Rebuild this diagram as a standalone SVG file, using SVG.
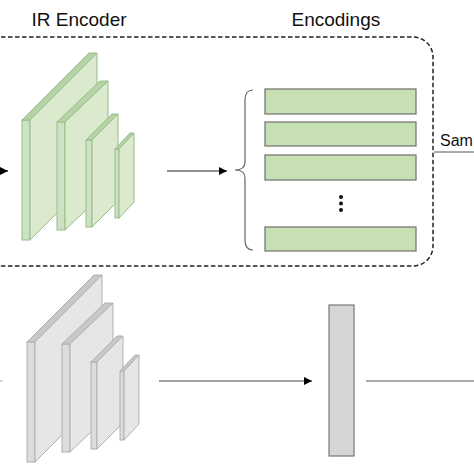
<svg xmlns="http://www.w3.org/2000/svg" width="474" height="474" viewBox="0 0 474 474">
<defs>
<style>
.t{font-family:"Liberation Sans",Arial,sans-serif;fill:#111}
.gs{fill:#cde2c4;stroke:#98bd86;stroke-width:1}
.gt{fill:#b5d3a5;stroke:#98bd86;stroke-width:1}
.gf{fill:#dbeacf;stroke:#98bd86;stroke-width:1}
.ys{fill:#dcdcdc;stroke:#b0b0b0;stroke-width:1}
.yt{fill:#c8c8c8;stroke:#b0b0b0;stroke-width:1}
.yf{fill:#e6e6e6;stroke:#b0b0b0;stroke-width:1}
.bar{fill:#c6e0b4;stroke:#6e6e6e;stroke-width:1.2}
.ln{stroke:#222;stroke-width:1.2;fill:none}
</style>
<marker id="ah" markerWidth="10" markerHeight="8" refX="8" refY="4" orient="auto" markerUnits="userSpaceOnUse">
<path d="M0,0 L8,4 L0,8 z" fill="#000"/>
</marker>
</defs>
<rect width="474" height="474" fill="#fff"/>
<g id="container">
<rect x="-40" y="37" width="473" height="229" rx="20" ry="20" fill="none" stroke="#222" stroke-width="1.5" stroke-dasharray="4.5 2.5"/>
</g>
<text class="t" x="31.5" y="26" font-size="19">IR Encoder</text>
<text class="t" x="291.5" y="26" font-size="19">Encodings</text>
<text class="t" x="440" y="146" font-size="16">Sam</text>
<g id="ir-encoder">
<rect class="gs" x="22" y="120" width="8" height="120"/>
<polygon class="gt" points="22,120 30,120 97,53 89,53"/>
<polygon class="gf" points="30,120 97,53 97,173 30,240"/>
<rect class="gs" x="57" y="122" width="8" height="108"/>
<polygon class="gt" points="57,122 65,122 108,81 100,81"/>
<polygon class="gf" points="65,122 108,81 108,189 65,230"/>
<rect class="gs" x="86" y="140" width="6" height="87"/>
<polygon class="gt" points="86,140 92,140 118,114 112,114"/>
<polygon class="gf" points="92,140 118,114 118,201 92,227"/>
<rect class="gs" x="115" y="149" width="4" height="69"/>
<polygon class="gt" points="115,149 119,149 134,133 130,133"/>
<polygon class="gf" points="119,149 134,133 134,202 119,218"/>
</g>
<g id="encodings">
<path d="M253,90 Q245,90 245,100 L245,162 Q245,170 235,170 Q245,170 245,178 L245,240 Q245,250 253,250" fill="none" stroke="#666" stroke-width="1.2"/>
<rect class="bar" x="265" y="89" width="151" height="25"/>
<rect class="bar" x="265" y="122" width="151" height="24"/>
<rect class="bar" x="265" y="155" width="151" height="25"/>
<rect class="bar" x="265" y="227" width="151" height="24"/>
<circle cx="341" cy="197" r="2" fill="#111"/>
<circle cx="341" cy="203.5" r="2" fill="#111"/>
<circle cx="341" cy="210" r="2" fill="#111"/>
</g>
<g id="encoder2">
<rect class="ys" x="27" y="342" width="8" height="120"/>
<polygon class="yt" points="27,342 35,342 102,275 94,275"/>
<polygon class="yf" points="35,342 102,275 102,395 35,462"/>
<rect class="ys" x="62" y="344" width="8" height="108"/>
<polygon class="yt" points="62,344 70,344 113,303 105,303"/>
<polygon class="yf" points="70,344 113,303 113,411 70,452"/>
<rect class="ys" x="91" y="362" width="6" height="87"/>
<polygon class="yt" points="91,362 97,362 123,336 117,336"/>
<polygon class="yf" points="97,362 123,336 123,423 97,449"/>
<rect class="ys" x="120" y="371" width="4" height="69"/>
<polygon class="yt" points="120,371 124,371 139,355 135,355"/>
<polygon class="yf" points="124,371 139,355 139,424 124,440"/>
</g>
<g id="vector">
<rect x="329" y="305" width="25" height="151" fill="#d6d6d6" stroke="#777" stroke-width="1.2"/>
</g>
<g id="connectors">
<line class="ln" x1="-10" y1="171" x2="8" y2="171" marker-end="url(#ah)"/>
<line class="ln" x1="167" y1="171" x2="227" y2="171" marker-end="url(#ah)"/>
<line x1="434" y1="152" x2="474" y2="152" stroke="#555" stroke-width="1"/>
<line x1="0" y1="381" x2="3" y2="381" stroke="#aaa" stroke-width="1"/>
<line x1="159" y1="381" x2="312" y2="381" stroke="#444" stroke-width="1.2" marker-end="url(#ah)"/>
<line x1="366" y1="381" x2="474" y2="381" stroke="#555" stroke-width="1.2"/>
</g>
</svg>
